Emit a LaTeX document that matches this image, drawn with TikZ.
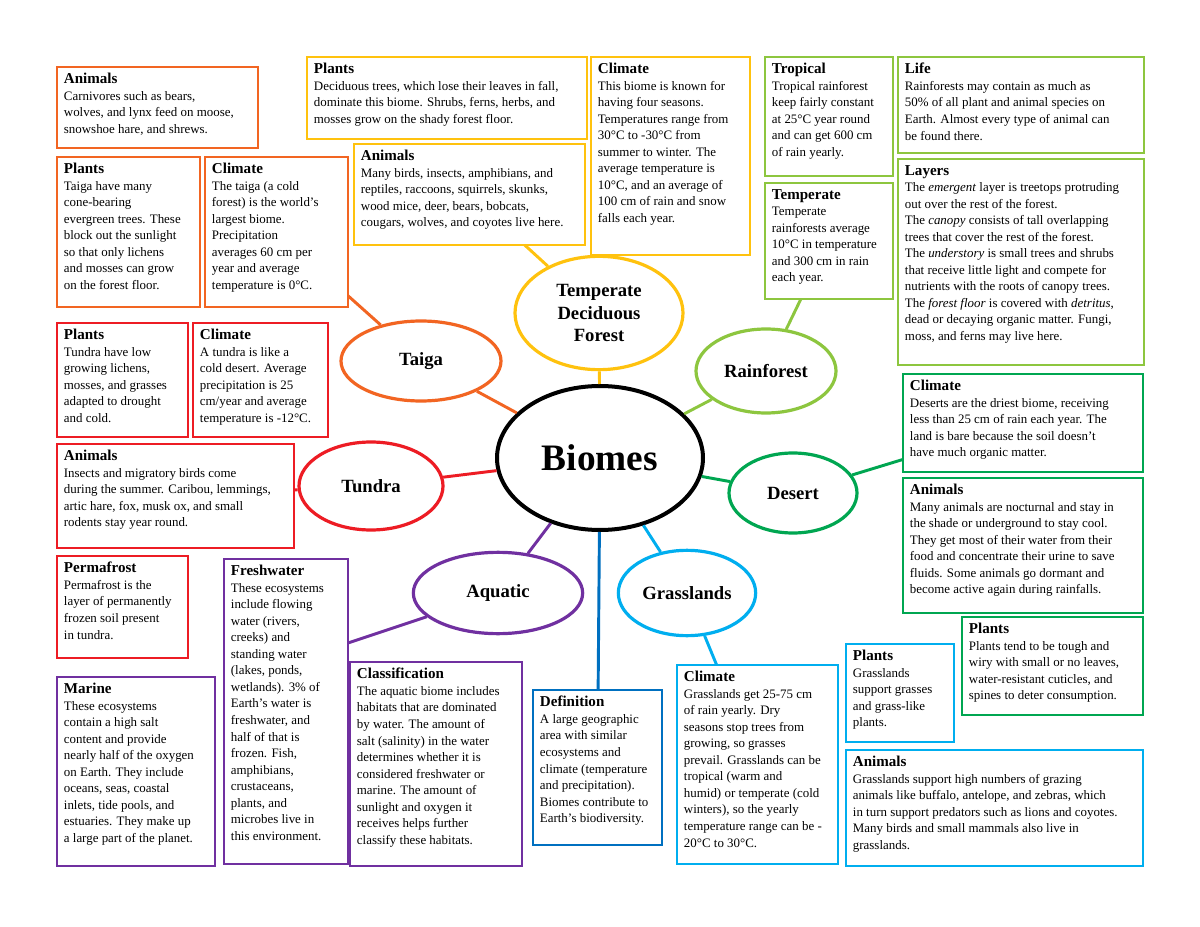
\documentclass[tikz,border=0pt]{standalone}
\usepackage{fontspec}
\setmainfont{Liberation Serif}
\usetikzlibrary{shapes.geometric}
\definecolor{corange}{HTML}{F26522}
\definecolor{cyellow}{HTML}{FFC20E}
\definecolor{clgreen}{HTML}{8DC63F}
\definecolor{cgreen}{HTML}{00A651}
\definecolor{cred}{HTML}{ED1C24}
\definecolor{cpurple}{HTML}{7030A0}
\definecolor{cblue}{HTML}{0070C0}
\definecolor{clblue}{HTML}{00AEEF}
\newcommand\hd[1]{{\fontsize{11.3}{13.5}\selectfont\bfseries #1}}
\newcommand\mybox[7]{%
\node[draw=#2,line width=2.2pt,anchor=north west,inner sep=0pt,outer sep=0pt,
 minimum width={(#5-#3)*0.75pt},minimum height={(#6-#4)*0.75pt}] (#1) at (#3,#4) {};
\node[txt,anchor=north west] (#1t) at ([shift={(3pt,-2.5pt)}]#1.north west) {#7};}
\begin{document}
\begin{tikzpicture}[x=0.75pt,y=-0.75pt,
 txt/.style={align=left,inner sep=2pt,font=\fontsize{9.7}{12.4}\selectfont},
 biome/.style={ellipse,draw=#1,line width=2.4pt,font=\fontsize{14}{17}\selectfont\bfseries,align=center,inner sep=0pt},
 conn/.style={draw=#1,line width=2.2pt}]
\useasboundingbox[fill=white] (0,0) rectangle (1200,927);
% ellipses
\node[ellipse,draw=black,line width=3pt,minimum width=154.5pt,minimum height=108pt,font=\fontsize{28}{32}\selectfont\bfseries] (biomes) at (600,458) {Biomes};
\node[biome=corange,minimum width=120pt,minimum height=60pt] (taiga) at (421,361) {Taiga};
\node[biome=cyellow,minimum width=126pt,minimum height=85pt] (tdf) at (599,313) {Temperate\\Deciduous\\Forest};
\node[biome=clgreen,minimum width=105pt,minimum height=63pt] (rain) at (766,371) {Rainforest};
\node[biome=cgreen,minimum width=96pt,minimum height=60pt] (desert) at (793,493) {Desert};
\node[biome=cred,minimum width=108pt,minimum height=66pt] (tundra) at (371,486) {Tundra};
\node[biome=cpurple,minimum width=127pt,minimum height=61pt] (aquatic) at (498,593) {Aquatic};
\node[biome=clblue,minimum width=103pt,minimum height=64pt] (grass) at (687,593) {Grasslands};
% boxes
\mybox{tanim}{corange}{57}{67}{258}{148}{\hd{Animals}\\Carnivores such as bears,\\ wolves, and lynx feed on moose,\\ snowshoe hare, and shrews.}
\mybox{tplant}{corange}{57}{157}{200}{307}{\hd{Plants}\\Taiga have many\\ cone-bearing\\ evergreen trees. These\\ block out the sunlight\\ so that only lichens\\ and mosses can grow\\ on the forest floor.}
\mybox{tclim}{corange}{205}{157}{348}{307}{\hd{Climate}\\The taiga (a cold\\ forest) is the world’s\\ largest biome.\\ Precipitation\\ averages 60 cm per\\ year and average\\ temperature is 0°C.}
\mybox{dplant}{cyellow}{307}{57}{587}{139}{\hd{Plants}\\Deciduous trees, which lose their leaves in fall,\\ dominate this biome. Shrubs, ferns, herbs, and\\ mosses grow on the shady forest floor.}
\mybox{dclim}{cyellow}{591}{57}{750}{255}{\hd{Climate}\\This biome is known for\\ having four seasons.\\ Temperatures range from\\ 30°C to -30°C from\\ summer to winter. The\\ average temperature is\\ 10°C, and an average of\\ 100 cm of rain and snow\\ falls each year.}
\mybox{danim}{cyellow}{354}{144}{585}{245}{\hd{Animals}\\Many birds, insects, amphibians, and\\ reptiles, raccoons, squirrels, skunks,\\ wood mice, deer, bears, bobcats,\\ cougars, wolves, and coyotes live here.}
\mybox{rtrop}{clgreen}{765}{57}{893}{176}{\hd{Tropical}\\Tropical rainforest\\ keep fairly constant\\ at 25°C year round\\ and can get 600 cm\\ of rain yearly.}
\mybox{rtemp}{clgreen}{765}{183}{893}{299}{\hd{Temperate}\\Temperate\\ rainforests average\\ 10°C in temperature\\ and 300 cm in rain\\ each year.}
\mybox{rlife}{clgreen}{898}{57}{1144}{153}{\hd{Life}\\Rainforests may contain as much as\\ 50\% of all plant and animal species on\\ Earth. Almost every type of animal can\\ be found there.}
\mybox{rlay}{clgreen}{898}{159}{1144}{365}{\hd{Layers}\\The \emph{emergent} layer is treetops protruding\\ out over the rest of the forest.\\ The \emph{canopy} consists of tall overlapping\\ trees that cover the rest of the forest.\\ The \emph{understory} is small trees and shrubs\\ that receive little light and compete for\\ nutrients with the roots of canopy trees.\\ The \emph{forest floor} is covered with \emph{detritus},\\ dead or decaying organic matter. Fungi,\\ moss, and ferns may live here.}
\mybox{eclim}{cgreen}{903}{374}{1143}{472}{\hd{Climate}\\Deserts are the driest biome, receiving\\ less than 25 cm of rain each year. The\\ land is bare because the soil doesn’t\\ have much organic matter.}
\mybox{eanim}{cgreen}{903}{478}{1143}{613}{\hd{Animals}\\Many animals are nocturnal and stay in\\ the shade or underground to stay cool.\\ They get most of their water from their\\ food and concentrate their urine to save\\ fluids. Some animals go dormant and\\ become active again during rainfalls.}
\mybox{eplant}{cgreen}{962}{617}{1143}{715}{\hd{Plants}\\Plants tend to be tough and\\ wiry with small or no leaves,\\ water-resistant cuticles, and\\ spines to deter consumption.}
\mybox{uplant}{cred}{57}{323}{188}{437}{\hd{Plants}\\Tundra have low\\ growing lichens,\\ mosses, and grasses\\ adapted to drought\\ and cold.}
\mybox{uclim}{cred}{193}{323}{328}{437}{\hd{Climate}\\A tundra is like a\\ cold desert. Average\\ precipitation is 25\\ cm/year and average\\ temperature is -12°C.}
\mybox{uanim}{cred}{57}{444}{294}{548}{\hd{Animals}\\Insects and migratory birds come\\ during the summer. Caribou, lemmings,\\ artic hare, fox, musk ox, and small\\ rodents stay year round.}
\mybox{uperm}{cred}{57}{556}{188}{658}{\hd{Permafrost}\\Permafrost is the\\ layer of permanently\\ frozen soil present\\ in tundra.}
\mybox{afresh}{cpurple}{224}{559}{348}{864}{\hd{Freshwater}\\These ecosystems\\ include flowing\\ water (rivers,\\ creeks) and\\ standing water\\ (lakes, ponds,\\ wetlands). 3\% of\\ Earth’s water is\\ freshwater, and\\ half of that is\\ frozen. Fish,\\ amphibians,\\ crustaceans,\\ plants, and\\ microbes live in\\ this environment.}
\mybox{amar}{cpurple}{57}{677}{215}{866}{\hd{Marine}\\These ecosystems\\ contain a high salt\\ content and provide\\ nearly half of the oxygen\\ on Earth. They include\\ oceans, seas, coastal\\ inlets, tide pools, and\\ estuaries. They make up\\ a large part of the planet.}
\mybox{aclass}{cpurple}{350}{662}{522}{866}{\hd{Classification}\\The aquatic biome includes\\ habitats that are dominated\\ by water. The amount of\\ salt (salinity) in the water\\ determines whether it is\\ considered freshwater or\\ marine. The amount of\\ sunlight and oxygen it\\ receives helps further\\ classify these habitats.}
\mybox{def}{cblue}{533}{690}{662}{845}{\hd{Definition}\\A large geographic\\ area with similar\\ ecosystems and\\ climate (temperature\\ and precipitation).\\ Biomes contribute to\\ Earth’s biodiversity.}
\mybox{gclim}{clblue}{677}{665}{838}{864}{\hd{Climate}\\Grasslands get 25-75 cm\\ of rain yearly. Dry\\ seasons stop trees from\\ growing, so grasses\\ prevail. Grasslands can be\\ tropical (warm and\\ humid) or temperate (cold\\ winters), so the yearly\\ temperature range can be -\\ 20°C to 30°C.}
\mybox{gplant}{clblue}{846}{644}{954}{742}{\hd{Plants}\\Grasslands\\ support grasses\\ and grass-like\\ plants.}
\mybox{ganim}{clblue}{846}{750}{1143}{866}{\hd{Animals}\\Grasslands support high numbers of grazing\\ animals like buffalo, antelope, and zebras, which\\ in turn support predators such as lions and coyotes.\\ Many birds and small mammals also live in\\ grasslands.}
\coordinate (fwend) at (348,643);
% connectors
\draw[conn=corange] (biomes) -- (taiga);
\draw[conn=corange] (taiga) -- (tclim);
\draw[conn=cyellow] (biomes) -- (tdf);
\draw[conn=cyellow] (tdf) -- (danim);
\draw[conn=clgreen] (biomes) -- (rain);
\draw[conn=clgreen] (rain) -- (rtemp);
\draw[conn=cgreen] (biomes) -- (desert);
\draw[conn=cgreen] (desert) -- (eclim);
\draw[conn=cred] (biomes) -- (tundra);
\draw[conn=cred] (tundra) -- (uanim);
\draw[conn=cpurple] (biomes) -- (aquatic);
\draw[conn=cpurple] (aquatic) -- (fwend);
\draw[conn=clblue] (biomes) -- (grass);
\draw[conn=clblue] (grass) -- (gclim);
\draw[conn=cblue] (biomes) -- (def);
\end{tikzpicture}
\end{document}
